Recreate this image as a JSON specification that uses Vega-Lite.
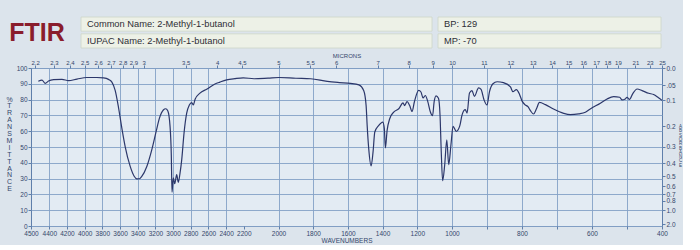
{
  "$schema": "https://vega.github.io/schema/vega-lite/v6.json",
  "background": "#dce4ec",
  "padding": {"left": 5, "top": 16, "right": 0, "bottom": 0},
  "config": {
    "font": "Liberation Sans, Arial, sans-serif",
    "view": {"stroke": null}
  },
  "spacing": 2,
  "vconcat": [
    {
      "spacing": 38,
      "bounds": "flush",
      "hconcat": [
        {
          "width": 12,
          "height": 31,
          "data": {"values": [{"logo": "FTIR"}]},
          "mark": {"type": "text", "fontSize": 25, "fontWeight": "bold", "color": "#8a1d2c", "baseline": "middle"},
          "encoding": {"text": {"field": "logo", "type": "nominal"}}
        },
        {
          "spacing": 6,
          "bounds": "flush",
          "hconcat": [
            {
              "width": 351,
              "height": 31,
              "data": {"values": [
                {"row": "Common Name", "label": "Common Name:  2-Methyl-1-butanol"},
                {"row": "IUPAC Name", "label": "IUPAC Name:  2-Methyl-1-butanol"}
              ]},
              "encoding": {"y": {"field": "row", "type": "nominal", "axis": null, "scale": {"paddingInner": 0.16, "paddingOuter": 0}}},
              "layer": [
                {"mark": {"type": "rect", "fill": "#edf1e7", "stroke": "#cdd6c9", "strokeWidth": 0.8}},
                {"mark": {"type": "text", "align": "left", "dx": 6, "fontSize": 9.3, "color": "#2e2e36"},
                 "encoding": {"x": {"value": 0}, "text": {"field": "label", "type": "nominal"}}}
              ]
            },
            {
              "width": 223,
              "height": 31,
              "data": {"values": [
                {"row": "Common Name", "label": "BP: 129"},
                {"row": "IUPAC Name", "label": "MP: -70"}
              ]},
              "encoding": {"y": {"field": "row", "type": "nominal", "axis": null, "scale": {"paddingInner": 0.16, "paddingOuter": 0}}},
              "layer": [
                {"mark": {"type": "rect", "fill": "#edf1e7", "stroke": "#cdd6c9", "strokeWidth": 0.8}},
                {"mark": {"type": "text", "align": "left", "dx": 6, "fontSize": 9.3, "color": "#2e2e36"},
                 "encoding": {"x": {"value": 0}, "text": {"field": "label", "type": "nominal"}}}
              ]
            }
          ]
        }
      ]
    },
    {
      "width": 631,
      "height": 158,
      "view": {"fill": "#e3ebf3", "stroke": "#5f7fab", "strokeWidth": 1},
      "data": {"values": [
        {"wn": 4460, "t": 91.6}, {"wn": 4440, "t": 92.3}, {"wn": 4422, "t": 90.3}, {"wn": 4404, "t": 91.8},
        {"wn": 4351, "t": 92.6}, {"wn": 4257, "t": 92.8}, {"wn": 4182, "t": 92.0}, {"wn": 4087, "t": 93.0},
        {"wn": 3975, "t": 94.0}, {"wn": 3862, "t": 94.0}, {"wn": 3787, "t": 93.7}, {"wn": 3731, "t": 92.8},
        {"wn": 3692, "t": 91.1}, {"wn": 3655, "t": 85.8}, {"wn": 3618, "t": 75.3}, {"wn": 3579, "t": 61.8},
        {"wn": 3542, "t": 50.3}, {"wn": 3485, "t": 37.7}, {"wn": 3440, "t": 31.5}, {"wn": 3410, "t": 29.8},
        {"wn": 3380, "t": 29.9}, {"wn": 3354, "t": 31.4}, {"wn": 3297, "t": 37.7}, {"wn": 3241, "t": 48.2},
        {"wn": 3192, "t": 59.7}, {"wn": 3155, "t": 68.1}, {"wn": 3110, "t": 73.4}, {"wn": 3083, "t": 74.2},
        {"wn": 3060, "t": 72.9}, {"wn": 3034, "t": 62.9}, {"wn": 3020, "t": 45.0}, {"wn": 3012, "t": 21.4},
        {"wn": 2997, "t": 30.4}, {"wn": 2981, "t": 26.8}, {"wn": 2959, "t": 32.5}, {"wn": 2941, "t": 27.6},
        {"wn": 2921, "t": 33.6}, {"wn": 2902, "t": 42.0}, {"wn": 2876, "t": 58.8}, {"wn": 2846, "t": 71.4},
        {"wn": 2816, "t": 76.6}, {"wn": 2789, "t": 78.1}, {"wn": 2771, "t": 76.6}, {"wn": 2751, "t": 80.2},
        {"wn": 2696, "t": 84.1}, {"wn": 2620, "t": 86.6}, {"wn": 2526, "t": 89.9}, {"wn": 2470, "t": 91.1},
        {"wn": 2394, "t": 92.5}, {"wn": 2300, "t": 93.3}, {"wn": 2207, "t": 93.8}, {"wn": 2141, "t": 93.2},
        {"wn": 2060, "t": 93.6}, {"wn": 1997, "t": 94.0}, {"wn": 1900, "t": 93.5}, {"wn": 1815, "t": 93.2},
        {"wn": 1719, "t": 91.5}, {"wn": 1650, "t": 90.8}, {"wn": 1585, "t": 90.3}, {"wn": 1537, "t": 89.3},
        {"wn": 1509, "t": 85.7}, {"wn": 1495, "t": 76.2}, {"wn": 1489, "t": 63.7}, {"wn": 1480, "t": 49.0},
        {"wn": 1466, "t": 38.1}, {"wn": 1455, "t": 46.9}, {"wn": 1445, "t": 59.5}, {"wn": 1422, "t": 63.7},
        {"wn": 1399, "t": 65.8}, {"wn": 1390, "t": 61.6}, {"wn": 1384, "t": 49.4}, {"wn": 1374, "t": 60.5},
        {"wn": 1359, "t": 67.9}, {"wn": 1336, "t": 72.1}, {"wn": 1307, "t": 74.2}, {"wn": 1282, "t": 77.9},
        {"wn": 1273, "t": 76.2}, {"wn": 1259, "t": 78.8}, {"wn": 1244, "t": 76.2}, {"wn": 1230, "t": 72.5},
        {"wn": 1217, "t": 78.5}, {"wn": 1192, "t": 85.8}, {"wn": 1179, "t": 84.8}, {"wn": 1167, "t": 81.0},
        {"wn": 1154, "t": 82.6}, {"wn": 1140, "t": 78.9}, {"wn": 1125, "t": 72.3}, {"wn": 1112, "t": 69.8},
        {"wn": 1103, "t": 78.6}, {"wn": 1092, "t": 82.4}, {"wn": 1078, "t": 80.8}, {"wn": 1069, "t": 70.3},
        {"wn": 1062, "t": 47.2}, {"wn": 1054, "t": 28.7}, {"wn": 1042, "t": 38.8}, {"wn": 1030, "t": 54.5},
        {"wn": 1019, "t": 38.8}, {"wn": 1006, "t": 51.4}, {"wn": 997, "t": 63.1}, {"wn": 988, "t": 59.9},
        {"wn": 978, "t": 63.2}, {"wn": 971, "t": 70.5}, {"wn": 962, "t": 73.6}, {"wn": 957, "t": 71.5},
        {"wn": 950, "t": 84.2}, {"wn": 943, "t": 85.7}, {"wn": 936, "t": 82.1}, {"wn": 924, "t": 87.4},
        {"wn": 917, "t": 86.4}, {"wn": 908, "t": 79.5}, {"wn": 900, "t": 76.6}, {"wn": 893, "t": 84.9},
        {"wn": 883, "t": 90.0}, {"wn": 871, "t": 91.3}, {"wn": 853, "t": 90.7}, {"wn": 833, "t": 88.0},
        {"wn": 826, "t": 85.0}, {"wn": 816, "t": 86.3}, {"wn": 807, "t": 83.3}, {"wn": 800, "t": 79.2},
        {"wn": 791, "t": 76.7}, {"wn": 783, "t": 75.5}, {"wn": 776, "t": 73.0}, {"wn": 767, "t": 70.9},
        {"wn": 759, "t": 74.0}, {"wn": 750, "t": 78.2}, {"wn": 733, "t": 76.8}, {"wn": 710, "t": 74.0},
        {"wn": 681, "t": 71.3}, {"wn": 662, "t": 70.5}, {"wn": 638, "t": 71.0}, {"wn": 619, "t": 72.0},
        {"wn": 605, "t": 74.1}, {"wn": 576, "t": 77.7}, {"wn": 557, "t": 80.4}, {"wn": 538, "t": 81.9},
        {"wn": 521, "t": 81.5}, {"wn": 514, "t": 79.8}, {"wn": 505, "t": 80.4}, {"wn": 500, "t": 81.5},
        {"wn": 493, "t": 80.1}, {"wn": 483, "t": 84.0}, {"wn": 471, "t": 86.7}, {"wn": 457, "t": 85.7},
        {"wn": 438, "t": 84.0}, {"wn": 424, "t": 83.2}, {"wn": 410, "t": 81.1}, {"wn": 400, "t": 79.5}
      ]},
      "resolve": {"axis": {"x": "independent", "y": "independent"}},
      "layer": [
        {
          "mark": {"type": "line", "color": "#2c376a", "strokeWidth": 1.2, "interpolate": "monotone"},
          "encoding": {
            "x": {
              "field": "wn", "type": "quantitative",
              "scale": {"domain": [4500, 4400, 2200, 1000, 400], "range": [0, 18.3, 212.8, 421, 631], "nice": false, "zero": false},
              "axis": {
                "orient": "bottom",
                "values": [4500, 4400, 4200, 4000, 3800, 3600, 3400, 3200, 3000, 2800, 2600, 2400, 2200, 2000, 1800, 1600, 1400, 1200, 1000, 900, 800, 700, 600, 500, 400],
                "format": "d",
                "labelExpr": "datum.value == 900 || datum.value == 700 || datum.value == 500 ? '' : datum.label",
                "grid": true,
                "gridColor": "#84a1c6",
                "gridWidth": 0.9,
                "gridOpacity": {"condition": {"test": "datum.value == 2200 || datum.value == 4500 || datum.value == 400", "value": 0}, "value": 1},
                "domain": false,
                "tickSize": 3,
                "tickColor": "#5f7fab",
                "labelFontSize": 6.5,
                "labelColor": "#34466b",
                "labelPadding": 1,
                "labelOverlap": false,
                "labelFlush": false,
                "title": "WAVENUMBERS",
                "titleFontSize": 6.5,
                "titleFontWeight": "normal",
                "titleColor": "#34466b",
                "titlePadding": 1
              }
            },
            "y": {
              "field": "t", "type": "quantitative",
              "scale": {"domain": [0, 100], "nice": false, "zero": true},
              "axis": {
                "orient": "left",
                "values": [0, 10, 20, 30, 40, 50, 60, 70, 80, 90, 100],
                "grid": true,
                "gridColor": "#84a1c6",
                "gridWidth": 0.9,
                "domain": false,
                "tickSize": 3,
                "tickColor": "#5f7fab",
                "labelFontSize": 6.5,
                "labelColor": "#34466b",
                "labelPadding": 1,
                "title": ["%", "", "T", "R", "A", "N", "S", "M", "I", "T", "T", "A", "N", "C", "E"],
                "titleAngle": 0,
                "titleAlign": "center",
                "titleBaseline": "middle",
                "titleX": -22,
                "titleY": 31,
                "titleFontSize": 7,
                "titleLineHeight": 6.9,
                "titleFontWeight": "normal",
                "titleColor": "#34466b"
              }
            }
          }
        },
        {
          "mark": {"type": "line", "opacity": 0},
          "encoding": {
            "x": {
              "field": "wn", "type": "quantitative",
              "axis": {
                "orient": "top",
                "values": [4477, 4348, 4167, 4000, 3846, 3704, 3571, 3448, 3333, 2857, 2500, 2222, 2000, 1818, 1667, 1429, 1250, 1111, 1000, 909, 833, 769, 714, 667, 625, 588, 556, 526, 476, 435, 400],
                "labelExpr": "format(10000 / datum.value, '.1~f')",
                "grid": false,
                "domain": false,
                "tickSize": 3,
                "tickColor": "#5f7fab",
                "labelFontSize": 6,
                "labelColor": "#34466b",
                "labelPadding": 0,
                "labelOverlap": false,
                "labelFlush": false,
                "title": "MICRONS",
                "titleFontSize": 6,
                "titleFontWeight": "normal",
                "titleColor": "#34466b",
                "titlePadding": 1
              }
            },
            "y": {
              "field": "t", "type": "quantitative",
              "axis": {
                "orient": "right",
                "values": [100, 89.125, 79.433, 63.096, 50.119, 39.811, 31.623, 25.119, 19.953, 15.849, 10, 1],
                "labelExpr": "datum.value > 99 ? '0.0' : (datum.value > 85 && datum.value < 95) ? '.05' : format(-log(datum.value / 100) / LN10, '.1f')",
                "grid": false,
                "domain": false,
                "tickSize": 3,
                "tickColor": "#5f7fab",
                "labelFontSize": 6.5,
                "labelColor": "#34466b",
                "labelPadding": 1,
                "labelOverlap": false,
                "title": ["A", "B", "S", "O", "R", "B", "A", "N", "C", "E"],
                "titleAngle": 0,
                "titleAlign": "center",
                "titleBaseline": "middle",
                "titleX": 18,
                "titleY": 58.5,
                "titleFontSize": 4.5,
                "titleLineHeight": 4.3,
                "titleFontWeight": "normal",
                "titleColor": "#34466b"
              }
            }
          }
        }
      ]
    }
  ]
}
